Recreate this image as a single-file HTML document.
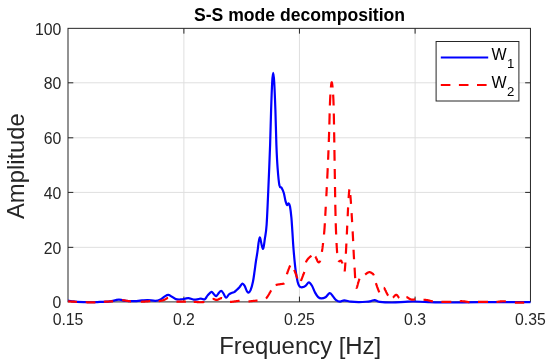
<!DOCTYPE html>
<html><head><meta charset="utf-8"><title>S-S mode decomposition</title>
<style>html,body{margin:0;padding:0;background:#fff;overflow:hidden;} svg{display:block;}</style>
</head><body>
<svg width="550" height="363" viewBox="0 0 550 363">
<line x1="183.88" y1="28.35" x2="183.88" y2="301.9" stroke="#dfdfdf" stroke-width="1"/>
<line x1="299.45" y1="28.35" x2="299.45" y2="301.9" stroke="#dfdfdf" stroke-width="1"/>
<line x1="415.10" y1="28.35" x2="415.10" y2="301.9" stroke="#dfdfdf" stroke-width="1"/>
<line x1="68.0" y1="247.35" x2="530.45" y2="247.35" stroke="#dfdfdf" stroke-width="1"/>
<line x1="68.0" y1="192.40" x2="530.45" y2="192.40" stroke="#dfdfdf" stroke-width="1"/>
<line x1="68.0" y1="137.80" x2="530.45" y2="137.80" stroke="#dfdfdf" stroke-width="1"/>
<line x1="68.0" y1="82.80" x2="530.45" y2="82.80" stroke="#dfdfdf" stroke-width="1"/>
<line x1="183.88" y1="301.9" x2="183.88" y2="296.60" stroke="#262626" stroke-width="1"/>
<line x1="183.88" y1="28.35" x2="183.88" y2="33.65" stroke="#262626" stroke-width="1"/>
<line x1="299.45" y1="301.9" x2="299.45" y2="296.60" stroke="#262626" stroke-width="1"/>
<line x1="299.45" y1="28.35" x2="299.45" y2="33.65" stroke="#262626" stroke-width="1"/>
<line x1="415.10" y1="301.9" x2="415.10" y2="296.60" stroke="#262626" stroke-width="1"/>
<line x1="415.10" y1="28.35" x2="415.10" y2="33.65" stroke="#262626" stroke-width="1"/>
<line x1="68.0" y1="247.35" x2="73.30" y2="247.35" stroke="#262626" stroke-width="1"/>
<line x1="530.45" y1="247.35" x2="525.15" y2="247.35" stroke="#262626" stroke-width="1"/>
<line x1="68.0" y1="192.40" x2="73.30" y2="192.40" stroke="#262626" stroke-width="1"/>
<line x1="530.45" y1="192.40" x2="525.15" y2="192.40" stroke="#262626" stroke-width="1"/>
<line x1="68.0" y1="137.80" x2="73.30" y2="137.80" stroke="#262626" stroke-width="1"/>
<line x1="530.45" y1="137.80" x2="525.15" y2="137.80" stroke="#262626" stroke-width="1"/>
<line x1="68.0" y1="82.80" x2="73.30" y2="82.80" stroke="#262626" stroke-width="1"/>
<line x1="530.45" y1="82.80" x2="525.15" y2="82.80" stroke="#262626" stroke-width="1"/>
<rect x="68.0" y="28.35" width="462.45" height="273.55" fill="none" stroke="#262626" stroke-width="1"/>
<path d="M68.00,300.65 C68.67,300.75 70.50,301.05 72.00,301.25 C73.50,301.45 74.00,301.68 77.00,301.85 C80.00,302.02 86.17,302.23 90.00,302.25 C93.83,302.27 97.00,302.05 100.00,301.95 C103.00,301.85 105.83,301.83 108.00,301.65 C110.17,301.47 111.58,301.15 113.00,300.85 C114.42,300.55 115.50,300.07 116.50,299.85 C117.50,299.63 118.08,299.52 119.00,299.55 C119.92,299.58 120.83,299.82 122.00,300.05 C123.17,300.28 123.60,300.78 126.00,300.95 C128.40,301.12 133.73,301.13 136.40,301.05 C139.07,300.97 140.10,300.62 142.00,300.45 C143.90,300.28 145.57,299.98 147.80,300.05 C150.03,300.12 153.28,300.95 155.40,300.85 C157.52,300.75 159.00,300.16 160.50,299.45 C162.00,298.74 163.12,297.39 164.40,296.61 C165.68,295.84 166.93,294.78 168.20,294.80 C169.47,294.82 170.73,296.01 172.00,296.74 C173.27,297.46 174.32,298.70 175.80,299.15 C177.28,299.60 179.37,299.52 180.90,299.45 C182.43,299.38 183.73,298.98 185.00,298.75 C186.27,298.52 187.07,297.93 188.50,298.08 C189.93,298.23 191.97,299.47 193.60,299.65 C195.23,299.83 197.07,299.33 198.30,299.15 C199.53,298.97 199.92,298.52 201.00,298.55 C202.08,298.58 203.72,299.84 204.80,299.35 C205.88,298.86 206.40,296.86 207.50,295.60 C208.60,294.34 210.30,291.98 211.40,291.80 C212.50,291.62 213.28,293.76 214.10,294.50 C214.92,295.24 215.58,296.43 216.30,296.25 C217.02,296.06 217.58,294.29 218.40,293.40 C219.22,292.51 220.37,290.90 221.20,290.90 C222.03,290.90 222.58,292.26 223.40,293.40 C224.22,294.54 225.20,297.53 226.10,297.71 C227.00,297.90 227.90,295.30 228.80,294.50 C229.70,293.70 230.68,293.25 231.50,292.90 C232.32,292.55 232.88,292.85 233.70,292.40 C234.52,291.95 235.40,291.12 236.40,290.20 C237.40,289.28 238.70,288.00 239.70,286.90 C240.70,285.80 241.58,283.78 242.40,283.60 C243.22,283.42 243.87,284.57 244.60,285.80 C245.33,287.03 246.17,289.87 246.80,291.00 C247.43,292.13 247.77,292.73 248.40,292.60 C249.03,292.47 249.83,292.05 250.60,290.20 C251.37,288.35 252.33,284.70 253.00,281.50 C253.67,278.30 254.12,274.33 254.60,271.00 C255.08,267.67 255.43,264.63 255.90,261.50 C256.37,258.37 256.77,256.20 257.40,252.20 C258.03,248.20 258.80,238.03 259.70,237.50 C260.60,236.97 261.93,248.83 262.80,249.00 C263.67,249.17 264.27,242.50 264.90,238.50 C265.53,234.50 266.03,233.08 266.60,225.00 C267.17,216.92 267.72,203.33 268.30,190.00 C268.88,176.67 269.63,158.33 270.10,145.00 C270.57,131.67 270.75,120.50 271.10,110.00 C271.45,99.50 271.85,88.20 272.20,82.00 C272.55,75.80 272.87,72.80 273.20,72.80 C273.53,72.80 273.83,75.80 274.20,82.00 C274.57,88.20 275.03,99.50 275.40,110.00 C275.77,120.50 276.03,135.33 276.40,145.00 C276.77,154.67 277.10,161.30 277.60,168.00 C278.10,174.70 278.72,181.87 279.40,185.20 C280.08,188.53 280.97,186.70 281.70,188.00 C282.43,189.30 283.15,190.77 283.80,193.00 C284.45,195.23 285.05,199.40 285.60,201.40 C286.15,203.40 286.58,204.67 287.10,205.00 C287.62,205.33 288.22,203.15 288.70,203.40 C289.18,203.65 289.55,204.13 290.00,206.50 C290.45,208.87 291.00,213.35 291.40,217.60 C291.80,221.85 292.03,226.60 292.40,232.00 C292.77,237.40 293.08,243.78 293.60,250.00 C294.12,256.22 294.83,264.02 295.50,269.30 C296.17,274.58 296.92,278.82 297.60,281.70 C298.28,284.58 298.75,285.68 299.60,286.60 C300.45,287.52 301.67,287.37 302.70,287.20 C303.73,287.03 304.77,286.42 305.80,285.60 C306.83,284.78 307.87,282.27 308.90,282.30 C309.93,282.33 310.97,284.08 312.00,285.80 C313.03,287.52 314.07,290.72 315.10,292.60 C316.13,294.48 317.17,296.13 318.20,297.10 C319.23,298.08 320.08,298.43 321.30,298.45 C322.52,298.47 324.12,298.10 325.50,297.23 C326.88,296.35 328.40,293.42 329.60,293.20 C330.80,292.98 331.67,294.79 332.70,295.90 C333.73,297.01 334.58,298.89 335.80,299.85 C337.02,300.81 338.58,301.57 340.00,301.65 C341.42,301.73 342.48,300.35 344.30,300.35 C346.12,300.35 348.52,301.37 350.90,301.65 C353.28,301.93 356.08,302.03 358.60,302.05 C361.12,302.07 363.92,301.92 366.00,301.75 C368.08,301.58 369.63,301.33 371.10,301.05 C372.57,300.77 373.35,299.92 374.80,300.05 C376.25,300.18 376.90,301.44 379.80,301.85 C382.70,302.26 388.00,302.51 392.20,302.50 C396.40,302.49 401.43,301.97 405.00,301.80 C408.57,301.63 409.73,301.45 413.60,301.50 C417.47,301.55 422.13,301.93 428.20,302.10 C434.27,302.27 441.37,302.48 450.00,302.50 C458.63,302.52 466.59,302.25 480.00,302.20 C493.41,302.15 522.04,302.20 530.45,302.20" fill="none" stroke="#0000ff" stroke-width="2.2" stroke-linejoin="round"/>
<g fill="none" stroke="#ff0000" stroke-width="2.2" stroke-linejoin="round">
<path d="M68.10,301.36 L68.20,301.36 L68.43,301.37 L68.69,301.39 L68.98,301.41 L69.29,301.42 L69.62,301.44 L69.97,301.46 L70.33,301.48 L70.72,301.51 L71.11,301.53 L71.52,301.55 L71.94,301.57 L72.36,301.60 L72.79,301.62 L73.23,301.65 L73.67,301.67 L74.10,301.70 L74.54,301.72 L74.97,301.74 L75.40,301.77 L75.81,301.79 L76.22,301.81 L76.62,301.83 L76.90,301.84"/>
<path d="M85.72,302.24 L86.00,302.25 L86.39,302.26 L86.78,302.27 L87.17,302.28 L87.57,302.29 L87.97,302.30 L88.37,302.31 L88.77,302.32 L89.17,302.33 L89.58,302.34 L89.98,302.35 L90.39,302.36 L90.79,302.36 L91.20,302.37 L91.60,302.37 L92.00,302.38 L92.40,302.38 L92.80,302.38 L93.20,302.38 L93.59,302.38 L93.98,302.38 L94.37,302.37 L94.75,302.37 L95.13,302.36 L95.40,302.35"/>
<path d="M103.90,301.74 L104.18,301.73 L104.56,301.71 L104.96,301.68 L105.37,301.66 L105.78,301.64 L106.20,301.62 L106.63,301.60 L107.06,301.58 L107.49,301.56 L107.92,301.54 L108.35,301.53 L108.78,301.51 L109.20,301.49 L109.62,301.47 L110.04,301.45 L110.44,301.43 L110.84,301.41 L111.23,301.39 L111.61,301.37 L111.98,301.34 L112.33,301.32 L112.67,301.30 L113.00,301.27 L113.20,301.26"/>
<path d="M122.20,300.15 L122.29,300.16 L122.48,300.17 L122.68,300.19 L122.88,300.21 L123.08,300.23 L123.29,300.25 L123.50,300.28 L123.71,300.31 L123.92,300.34 L124.13,300.37 L124.34,300.41 L124.56,300.44 L124.77,300.48 L124.98,300.52 L125.19,300.55 L125.40,300.59 L125.61,300.63 L125.82,300.66 L126.02,300.70 L126.23,300.73 L126.43,300.76 L126.62,300.80 L126.81,300.82 L127.00,300.85 L127.18,300.87 L127.35,300.90 L127.50,300.92 L127.65,300.95 L127.79,300.97 L127.93,300.99 L128.06,301.01 L128.19,301.04 L128.31,301.06 L128.44,301.08 L128.56,301.10 L128.69,301.12 L128.83,301.14 L128.97,301.16 L129.11,301.18 L129.27,301.20 L129.44,301.22 L129.61,301.24 L129.80,301.26 L130.01,301.27 L130.23,301.29 L130.47,301.31 L130.72,301.33 L130.90,301.34"/>
<path d="M140.90,301.75 L141.20,301.74 L141.61,301.73 L142.02,301.72 L142.43,301.70 L142.84,301.68 L143.25,301.66 L143.66,301.63 L144.07,301.60 L144.48,301.57 L144.89,301.54 L145.29,301.51 L145.70,301.47 L146.11,301.44 L146.51,301.41 L146.91,301.38 L147.31,301.34 L147.71,301.31 L148.10,301.28 L148.49,301.25 L148.88,301.23 L149.27,301.20 L149.65,301.18 L150.03,301.16 L150.30,301.15"/>
<path d="M158.70,301.14 L158.88,301.12 L159.15,301.09 L159.42,301.06 L159.68,301.03 L159.93,300.99 L160.18,300.95 L160.42,300.91 L160.65,300.87 L160.88,300.82 L161.11,300.78 L161.33,300.73 L161.55,300.67 L161.76,300.62 L161.98,300.57 L162.19,300.51 L162.39,300.45 L162.60,300.39 L162.80,300.33 L163.00,300.27 L163.20,300.21 L163.40,300.15 L163.60,300.08 L163.80,300.02 L164.00,299.95 L164.20,299.88 L164.39,299.80 L164.59,299.71 L164.77,299.62 L164.96,299.52 L165.14,299.41 L165.32,299.30 L165.50,299.19 L165.68,299.08 L165.86,298.97 L166.03,298.85 L166.20,298.74 L166.37,298.64 L166.54,298.53 L166.71,298.43 L166.87,298.34 L167.04,298.26 L167.21,298.18 L167.37,298.11 L167.54,298.06 L167.70,298.01 L167.87,297.98 L168.03,297.96 L168.10,297.95"/>
<path d="M176.50,301.56 L176.70,301.58 L177.02,301.60 L177.36,301.62 L177.72,301.63 L178.09,301.64 L178.48,301.65 L178.88,301.65 L179.29,301.65 L179.71,301.65 L180.13,301.65 L180.56,301.64 L181.00,301.63 L181.44,301.62 L181.88,301.61 L182.32,301.60 L182.76,301.59 L183.19,301.58 L183.62,301.57 L184.04,301.56 L184.46,301.56 L184.86,301.55 L185.25,301.55 L185.63,301.55 L185.90,301.55"/>
<path d="M193.70,301.76 L193.89,301.77 L194.18,301.78 L194.47,301.80 L194.75,301.83 L195.04,301.85 L195.32,301.88 L195.60,301.90 L195.88,301.93 L196.16,301.96 L196.43,301.98 L196.71,302.01 L196.97,302.04 L197.24,302.06 L197.51,302.09 L197.77,302.12 L198.03,302.14 L198.29,302.16 L198.54,302.18 L198.79,302.20 L199.04,302.22 L199.28,302.23 L199.53,302.24 L199.76,302.25 L200.00,302.25 L200.23,302.25 L200.46,302.25 L200.68,302.25 L200.90,302.25 L201.11,302.24 L201.33,302.23 L201.54,302.23 L201.74,302.22 L201.94,302.21 L202.14,302.19 L202.34,302.18 L202.54,302.16 L202.73,302.15 L202.92,302.13 L203.11,302.11 L203.30,302.08 L203.49,302.06 L203.68,302.03 L203.87,302.01 L204.05,301.98 L204.24,301.95 L204.33,301.93"/>
<path d="M212.61,299.02 L212.67,299.01 L212.84,298.98 L213.00,298.96 L213.16,298.96 L213.32,298.96 L213.48,298.98 L213.63,299.01 L213.79,299.05 L213.94,299.10 L214.09,299.15 L214.24,299.21 L214.39,299.27 L214.54,299.34 L214.69,299.41 L214.84,299.48 L215.00,299.54 L215.15,299.61 L215.30,299.68 L215.46,299.74 L215.62,299.79 L215.78,299.84 L215.94,299.89 L216.11,299.92 L216.27,299.95 L216.45,299.96 L216.62,299.96 L216.80,299.95 L216.98,299.92 L217.17,299.88 L217.37,299.83 L217.57,299.76 L217.78,299.68 L217.99,299.59 L218.20,299.50 L218.41,299.40 L218.63,299.29 L218.84,299.18 L219.06,299.07 L219.28,298.96 L219.50,298.84 L219.72,298.73 L219.93,298.63 L220.14,298.53 L220.35,298.43 L220.56,298.34 L220.76,298.27 L220.96,298.20 L221.16,298.14 L221.34,298.10 L221.53,298.07 L221.70,298.06 L221.87,298.07 L222.03,298.08 L222.08,298.09"/>
<path d="M230.00,301.85 L230.22,301.86 L230.55,301.87 L230.90,301.86 L231.26,301.84 L231.64,301.81 L232.03,301.78 L232.43,301.73 L232.84,301.68 L233.26,301.63 L233.69,301.57 L234.12,301.51 L234.56,301.44 L235.00,301.38 L235.45,301.31 L235.89,301.25 L236.33,301.18 L236.77,301.12 L237.21,301.06 L237.65,301.01 L238.07,300.96 L238.49,300.92 L238.91,300.89 L239.31,300.87 L239.60,300.85"/>
<path d="M248.50,301.35 L248.72,301.35 L249.03,301.34 L249.34,301.32 L249.65,301.31 L249.96,301.29 L250.26,301.27 L250.56,301.24 L250.85,301.21 L251.14,301.18 L251.43,301.15 L251.71,301.12 L251.99,301.09 L252.27,301.05 L252.54,301.02 L252.81,300.99 L253.07,300.95 L253.33,300.92 L253.58,300.89 L253.83,300.86 L254.07,300.83 L254.31,300.81 L254.55,300.79 L254.78,300.77 L255.00,300.75 L255.22,300.74 L255.42,300.73 L255.62,300.72 L255.82,300.71 L256.00,300.70 L256.18,300.70 L256.36,300.70 L256.53,300.69 L256.69,300.69 L256.85,300.69 L257.01,300.69 L257.16,300.69 L257.31,300.69 L257.46,300.69 L257.51,300.69"/>
<path d="M265.96,298.55 L266.00,298.51 L266.12,298.40 L266.23,298.28 L266.34,298.15 L266.46,298.02 L266.57,297.89 L266.68,297.75 L266.79,297.61 L266.90,297.46 L267.00,297.31 L267.11,297.15 L267.22,297.00 L267.32,296.84 L267.43,296.67 L267.54,296.51 L267.64,296.34 L267.75,296.17 L267.85,296.00 L267.96,295.83 L268.07,295.66 L268.17,295.49 L268.28,295.32 L268.38,295.14 L268.49,294.97 L268.60,294.80 L268.71,294.63 L268.82,294.45 L268.93,294.27 L269.04,294.08 L269.15,293.90 L269.26,293.70 L269.37,293.51 L269.48,293.32 L269.59,293.12 L269.70,292.93 L269.81,292.73 L269.92,292.53 L270.03,292.33 L270.14,292.14 L270.25,291.94 L270.36,291.75 L270.46,291.56 L270.57,291.37 L270.68,291.18 L270.78,291.00 L270.89,290.82 L270.99,290.64 L271.10,290.47 L271.15,290.39"/>
<path d="M275.70,285.13 L275.74,285.12 L275.87,285.06 L276.00,285.00 L276.14,284.95 L276.28,284.90 L276.43,284.85 L276.58,284.81 L276.73,284.76 L276.89,284.73 L277.04,284.69 L277.21,284.66 L277.37,284.63 L277.54,284.60 L277.71,284.57 L277.88,284.54 L278.05,284.52 L278.23,284.49 L278.40,284.47 L278.58,284.44 L278.76,284.41 L278.94,284.39 L279.11,284.36 L279.29,284.33 L279.47,284.30 L279.65,284.27 L279.82,284.24 L280.00,284.20 L280.18,284.16 L280.36,284.13 L280.55,284.11 L280.75,284.08 L280.94,284.06 L281.14,284.04 L281.35,284.02 L281.55,284.00 L281.76,283.98 L281.96,283.96 L282.17,283.94 L282.37,283.91 L282.57,283.88 L282.77,283.85 L282.96,283.82 L283.15,283.78 L283.33,283.73 L283.51,283.68 L283.68,283.62 L283.84,283.55 L284.00,283.48 L284.14,283.40 L284.28,283.30 L284.32,283.26"/>
<path d="M286.93,274.20 L286.96,274.10 L287.02,273.89 L287.09,273.68 L287.15,273.47 L287.22,273.26 L287.29,273.05 L287.36,272.83 L287.43,272.61 L287.50,272.40 L287.57,272.18 L287.65,271.97 L287.72,271.75 L287.79,271.53 L287.87,271.32 L287.94,271.11 L288.01,270.90 L288.09,270.69 L288.16,270.48 L288.24,270.28 L288.31,270.07 L288.38,269.87 L288.46,269.68 L288.53,269.49 L288.60,269.30 L288.67,269.11 L288.74,268.93 L288.82,268.74 L288.89,268.55 L288.96,268.37 L289.03,268.18 L289.11,267.99 L289.18,267.81 L289.26,267.63 L289.33,267.45 L289.40,267.27 L289.48,267.10 L289.55,266.93 L289.62,266.76 L289.69,266.60 L289.76,266.44 L289.83,266.29 L289.90,266.15 L289.97,266.00 L290.04,265.87 L290.11,265.74 L290.17,265.62 L290.24,265.51 L290.25,265.49"/>
<path d="M294.23,269.89 L294.26,269.97 L294.33,270.15 L294.40,270.33 L294.47,270.52 L294.54,270.70 L294.61,270.90 L294.69,271.09 L294.77,271.29 L294.84,271.49 L294.92,271.70 L295.00,271.90 L295.08,272.11 L295.16,272.31 L295.24,272.52 L295.32,272.72 L295.40,272.93 L295.48,273.13 L295.56,273.34 L295.63,273.54 L295.71,273.74 L295.79,273.93 L295.86,274.13 L295.93,274.31 L296.00,274.50 L296.07,274.68 L296.14,274.87 L296.21,275.05 L296.27,275.23 L296.34,275.42 L296.41,275.60 L296.48,275.78 L296.54,275.96 L296.61,276.14 L296.68,276.32 L296.74,276.49 L296.81,276.67 L296.87,276.84 L296.93,277.01 L296.99,277.18 L297.06,277.35 L297.12,277.52 L297.17,277.68 L297.23,277.84 L297.29,278.00 L297.34,278.15 L297.40,278.31 L297.45,278.45 L297.47,278.51"/>
<path d="M300.94,280.91 L300.95,280.87 L301.01,280.73 L301.06,280.58 L301.13,280.42 L301.19,280.25 L301.25,280.08 L301.32,279.90 L301.39,279.72 L301.46,279.53 L301.54,279.34 L301.61,279.14 L301.69,278.94 L301.76,278.73 L301.84,278.53 L301.92,278.32 L302.00,278.11 L302.07,277.91 L302.15,277.70 L302.23,277.49 L302.31,277.29 L302.38,277.09 L302.46,276.89 L302.53,276.69 L302.60,276.50 L302.67,276.31 L302.74,276.12 L302.82,275.94 L302.89,275.75 L302.97,275.56 L303.05,275.38 L303.12,275.19 L303.20,275.00 L303.28,274.82 L303.35,274.63 L303.43,274.44 L303.51,274.26 L303.58,274.07 L303.66,273.88 L303.73,273.69 L303.80,273.50 L303.87,273.30 L303.94,273.11 L304.00,272.91 L304.07,272.71 L304.13,272.51 L304.19,272.31 L304.25,272.11 L304.27,272.00"/>
<path d="M305.83,262.41 L305.85,262.36 L305.91,262.21 L305.96,262.07 L306.02,261.93 L306.08,261.80 L306.15,261.66 L306.21,261.53 L306.28,261.40 L306.35,261.27 L306.42,261.14 L306.49,261.01 L306.57,260.89 L306.64,260.76 L306.72,260.64 L306.80,260.52 L306.87,260.40 L306.95,260.29 L307.03,260.17 L307.11,260.06 L307.19,259.94 L307.27,259.83 L307.34,259.72 L307.42,259.61 L307.50,259.50 L307.58,259.39 L307.66,259.29 L307.73,259.18 L307.81,259.08 L307.90,258.98 L307.98,258.88 L308.06,258.78 L308.14,258.68 L308.22,258.59 L308.31,258.49 L308.39,258.40 L308.48,258.31 L308.56,258.22 L308.64,258.13 L308.73,258.04 L308.81,257.95 L308.90,257.87 L308.99,257.78 L309.07,257.70 L309.16,257.62 L309.24,257.54 L309.33,257.46 L309.41,257.38 L309.50,257.30 L309.59,257.22 L309.67,257.15 L309.76,257.07 L309.85,257.00 L309.94,256.93 L310.02,256.85 L310.11,256.78 L310.20,256.71 L310.29,256.65 L310.38,256.58 L310.47,256.51 L310.56,256.45 L310.65,256.39 L310.74,256.33 L310.83,256.27 L310.92,256.21 L311.01,256.15 L311.09,256.10 L311.18,256.04 L311.27,255.99 L311.35,255.94 L311.44,255.89 L311.51,255.85"/>
<path d="M315.36,256.58 L315.37,256.59 L315.44,256.69 L315.51,256.80 L315.58,256.91 L315.65,257.03 L315.71,257.15 L315.78,257.28 L315.85,257.41 L315.91,257.54 L315.98,257.68 L316.04,257.81 L316.11,257.95 L316.17,258.09 L316.23,258.23 L316.29,258.37 L316.35,258.50 L316.41,258.64 L316.47,258.77 L316.53,258.90 L316.58,259.03 L316.64,259.16 L316.69,259.28 L316.75,259.39 L316.80,259.50 L316.85,259.61 L316.90,259.71 L316.95,259.82 L316.99,259.92 L317.04,260.02 L317.08,260.12 L317.12,260.22 L317.16,260.32 L317.20,260.41 L317.24,260.51 L317.28,260.60 L317.32,260.69 L317.36,260.78 L317.39,260.87 L317.43,260.95 L317.47,261.04 L317.51,261.12 L317.55,261.19 L317.59,261.27 L317.63,261.34 L317.67,261.41 L317.71,261.48 L317.75,261.54 L317.80,261.60 L317.85,261.66 L317.89,261.71 L317.94,261.77 L317.99,261.82 L318.04,261.88 L318.09,261.93 L318.14,261.98 L318.19,262.02 L318.24,262.07 L318.29,262.11 L318.34,262.15 L318.39,262.18 L318.44,262.21 L318.49,262.24 L318.54,262.27 L318.59,262.29 L318.64,262.31 L318.70,262.32 L318.75,262.33 L318.80,262.33 L318.85,262.33 L318.90,262.33 L318.95,262.32 L319.00,262.30 L319.05,262.28 L319.10,262.26 L319.15,262.23 L319.20,262.20 L319.26,262.16 L319.31,262.12 L319.36,262.08 L319.41,262.03 L319.46,261.98 L319.52,261.93 L319.57,261.87 L319.62,261.81 L319.67,261.74 L319.72,261.67 L319.77,261.59 L319.82,261.51 L319.87,261.43 L319.92,261.34 L319.97,261.24 L320.02,261.14 L320.06,261.04 L320.11,260.93 L320.16,260.82 L320.16,260.79"/>
<path d="M321.91,251.90 L321.94,251.69 L321.99,251.37 L322.04,251.03 L322.09,250.67 L322.14,250.31 L322.19,249.93 L322.25,249.55 L322.30,249.15 L322.36,248.74 L322.41,248.32 L322.47,247.90 L322.52,247.47 L322.58,247.03 L322.64,246.59 L322.70,246.14 L322.76,245.69 L322.81,245.23 L322.87,244.77 L322.93,244.31 L322.98,243.85 L323.04,243.38 L323.08,243.00"/>
<path d="M324.01,234.50 L324.03,234.30 L324.07,233.78 L324.12,233.26 L324.17,232.73 L324.22,232.20 L324.27,231.66 L324.31,231.11 L324.36,230.56 L324.40,230.00 L324.44,229.44 L324.48,228.87 L324.53,228.30 L324.57,227.73 L324.60,227.16 L324.64,226.58 L324.68,226.00 L324.71,225.41 L324.75,224.81 L324.79,224.22 L324.82,223.61 L324.84,223.30"/>
<path d="M325.25,215.90 L325.26,215.72 L325.30,215.00 L325.34,214.26 L325.38,213.51 L325.43,212.74 L325.47,211.96 L325.52,211.16 L325.56,210.35 L325.61,209.53 L325.66,208.70 L325.70,207.87 L325.75,207.02 L325.76,206.80"/>
<path d="M326.33,196.30 L326.36,195.84 L326.40,195.00 L326.44,194.17 L326.49,193.33 L326.53,192.50 L326.57,191.67 L326.62,190.83 L326.66,190.00 L326.70,189.17 L326.74,188.33 L326.79,187.50 L326.81,187.10"/>
<path d="M327.23,178.60 L327.24,178.33 L327.28,177.50 L327.32,176.67 L327.36,175.83 L327.40,175.00 L327.44,174.17 L327.48,173.35 L327.52,172.53 L327.56,171.72 L327.59,170.92 L327.63,170.12 L327.67,169.32 L327.71,168.52 L327.73,168.10"/>
<path d="M328.10,159.80 L328.11,159.49 L328.15,158.62 L328.19,157.74 L328.23,156.84 L328.26,155.93 L328.30,155.00 L328.34,154.05 L328.38,153.09 L328.41,152.11 L328.45,151.12 L328.49,150.20"/>
<path d="M328.80,141.90 L328.80,141.74 L328.84,140.67 L328.88,139.59 L328.91,138.52 L328.95,137.44 L328.99,136.37 L329.03,135.29 L329.06,134.22 L329.10,133.16 L329.13,132.10 L329.14,131.90"/>
<path d="M329.36,124.50 L329.39,123.52 L329.42,122.41 L329.44,121.30 L329.47,120.19 L329.50,119.08 L329.53,117.97 L329.56,116.88 L329.58,115.79 L329.61,114.71 L329.64,113.64 L329.65,113.40"/>
<path d="M329.88,105.50 L329.90,105.00 L329.93,104.18 L329.96,103.38 L329.99,102.60 L330.03,101.84 L330.06,101.10 L330.09,100.38 L330.12,99.67 L330.15,98.99 L330.18,98.32 L330.22,97.67 L330.25,97.04 L330.28,96.42 L330.31,95.82 L330.35,95.23 L330.38,94.65 L330.38,94.60"/>
<path d="M330.91,87.50 L330.93,87.20 L330.97,86.76 L331.01,86.32 L331.06,85.90 L331.10,85.49 L331.14,85.10 L331.18,84.73 L331.22,84.38 L331.27,84.05 L331.31,83.74 L331.35,83.46 L331.39,83.20 L331.44,82.97 L331.48,82.77 L331.53,82.61 L331.57,82.48 L331.61,82.38 L331.66,82.32 L331.70,82.30 L331.74,82.32 L331.79,82.38 L331.83,82.48 L331.88,82.61 L331.93,82.77 L331.97,82.97 L332.02,83.20 L332.07,83.46 L332.12,83.74 L332.17,84.05 L332.21,84.38 L332.26,84.73 L332.31,85.10 L332.36,85.49 L332.41,85.90 L332.45,86.32 L332.50,86.76 L332.54,87.20 L332.57,87.50"/>
<path d="M333.13,94.60 L333.14,94.65 L333.17,95.23 L333.20,95.82 L333.24,96.42 L333.27,97.04 L333.30,97.67 L333.34,98.32 L333.37,98.99 L333.40,99.67 L333.43,100.38 L333.46,101.10 L333.49,101.84 L333.52,102.60 L333.54,103.38 L333.57,104.18 L333.60,105.00 L333.62,105.50"/>
<path d="M333.81,113.40 L333.81,113.64 L333.83,114.71 L333.86,115.79 L333.88,116.88 L333.89,117.97 L333.91,119.08 L333.93,120.19 L333.95,121.30 L333.97,122.41 L333.99,123.52 L334.01,124.50"/>
<path d="M334.14,132.30 L334.15,133.12 L334.17,134.17 L334.19,135.21 L334.21,136.25 L334.22,137.29 L334.24,138.33 L334.26,139.38 L334.27,140.42 L334.29,141.46 L334.30,142.40"/>
<path d="M334.42,150.10 L334.43,150.83 L334.45,151.88 L334.47,152.92 L334.48,153.96 L334.50,155.00 L334.52,156.04 L334.53,157.08 L334.55,158.12 L334.57,159.17 L334.58,160.21 L334.59,160.70"/>
<path d="M334.72,169.00 L334.73,169.58 L334.75,170.62 L334.77,171.67 L334.78,172.71 L334.80,173.75 L334.82,174.79 L334.83,175.83 L334.85,176.88 L334.87,177.92 L334.88,178.90"/>
<path d="M335.01,187.10 L335.01,187.44 L335.03,188.52 L335.05,189.59 L335.06,190.67 L335.08,191.74 L335.09,192.81 L335.11,193.88 L335.13,194.94 L335.14,195.99 L335.16,197.04 L335.16,197.30"/>
<path d="M335.29,204.70 L335.30,205.00 L335.32,205.93 L335.34,206.86 L335.36,207.77 L335.38,208.68 L335.40,209.58 L335.42,210.47 L335.44,211.35 L335.46,212.22 L335.48,213.09 L335.50,213.94 L335.52,214.79 L335.54,215.62 L335.54,215.90"/>
<path d="M335.75,223.30 L335.75,223.52 L335.78,224.27 L335.80,225.00 L335.82,225.72 L335.85,226.43 L335.87,227.13 L335.89,227.82 L335.92,228.50 L335.94,229.17 L335.96,229.83 L335.99,230.48 L336.01,231.12 L336.04,231.76 L336.06,232.38 L336.09,233.00 L336.11,233.61 L336.14,234.22 L336.15,234.50"/>
<path d="M336.55,243.00 L336.56,243.32 L336.59,243.86 L336.62,244.39 L336.65,244.92 L336.67,245.44 L336.70,245.96 L336.73,246.47 L336.76,246.97 L336.79,247.47 L336.82,247.96 L336.85,248.44 L336.88,248.92 L336.91,249.39 L336.94,249.85 L336.97,250.30 L337.00,250.74 L337.03,251.17 L337.07,251.59 L337.10,252.00 L337.13,252.40 L337.17,252.80 L337.19,253.10"/>
<path d="M338.45,260.60 L338.46,260.61 L338.52,260.70 L338.58,260.78 L338.65,260.85 L338.71,260.91 L338.78,260.97 L338.84,261.02 L338.91,261.06 L338.98,261.10 L339.04,261.13 L339.11,261.16 L339.18,261.19 L339.24,261.21 L339.31,261.23 L339.37,261.26 L339.44,261.28 L339.50,261.30 L339.56,261.32 L339.62,261.32 L339.69,261.31 L339.75,261.29 L339.81,261.25 L339.88,261.21 L339.94,261.17 L340.00,261.11 L340.06,261.06 L340.12,261.00 L340.19,260.94 L340.25,260.88 L340.31,260.81 L340.38,260.76 L340.44,260.70 L340.50,260.65 L340.56,260.61 L340.62,260.57 L340.69,260.55 L340.75,260.53 L340.81,260.53 L340.88,260.54 L340.94,260.56 L341.00,260.60 L341.06,260.65 L341.13,260.71 L341.19,260.78 L341.25,260.86 L341.32,260.95 L341.38,261.05 L341.45,261.15 L341.51,261.26 L341.58,261.37 L341.65,261.49 L341.71,261.62 L341.77,261.75 L341.84,261.89 L341.90,262.03 L341.97,262.17 L342.03,262.32 L342.09,262.47 L342.15,262.63 L342.21,262.79 L342.27,262.95 L342.33,263.11 L342.39,263.27 L342.45,263.44 L342.47,263.51"/>
<path d="M344.66,271.48 L344.67,271.35 L344.71,271.10 L344.74,270.82 L344.78,270.53 L344.81,270.21 L344.85,269.87 L344.88,269.51 L344.91,269.14 L344.95,268.76 L344.98,268.36 L345.01,267.95 L345.04,267.53 L345.08,267.10 L345.11,266.67 L345.14,266.23 L345.17,265.78 L345.21,265.34 L345.24,264.89 L345.27,264.44 L345.30,264.00 L345.33,263.55 L345.36,263.09 L345.39,262.63 L345.40,262.50"/>
<path d="M345.86,253.70 L345.88,253.40 L345.91,252.80 L345.94,252.20 L345.97,251.60 L346.00,251.00 L346.03,250.39 L346.06,249.77 L346.10,249.15 L346.13,248.52 L346.16,247.88 L346.19,247.23 L346.23,246.58 L346.26,245.93 L346.29,245.26 L346.33,244.60 L346.36,243.93 L346.38,243.50"/>
<path d="M346.82,234.50 L346.83,234.31 L346.87,233.62 L346.90,232.93 L346.93,232.24 L346.96,231.54 L347.00,230.84 L347.03,230.14 L347.06,229.44 L347.10,228.74 L347.13,228.04 L347.16,227.33 L347.19,226.62 L347.23,225.92 L347.24,225.60"/>
<path d="M347.68,216.30 L347.71,215.75 L347.74,214.97 L347.78,214.19 L347.82,213.40 L347.85,212.60 L347.89,211.80 L347.93,211.00 L347.96,210.20 L348.00,209.40 L348.04,208.61 L348.08,207.82 L348.10,207.40"/>
<path d="M348.63,198.10 L348.66,197.58 L348.70,196.98 L348.74,196.38 L348.78,195.79 L348.83,195.21 L348.87,194.64 L348.91,194.09 L348.95,193.56 L348.99,193.04 L349.04,192.55 L349.08,192.08 L349.12,191.64 L349.16,191.23 L349.21,190.85 L349.25,190.51 L349.29,190.20 L349.33,189.93 L349.37,189.71 L349.42,189.52 L349.46,189.39"/>
<path d="M350.32,195.00 L350.34,195.20 L350.38,195.66 L350.42,196.11 L350.46,196.56 L350.50,197.00 L350.54,197.44 L350.58,197.89 L350.62,198.36 L350.66,198.84 L350.69,199.33 L350.73,199.83 L350.77,200.34 L350.81,200.87 L350.84,201.40 L350.88,201.94 L350.92,202.49 L350.96,203.04 L350.99,203.61 L351.01,203.90"/>
<path d="M351.60,213.20 L351.63,213.61 L351.67,214.23 L351.70,214.85 L351.74,215.48 L351.78,216.11 L351.82,216.74 L351.86,217.38 L351.89,218.01 L351.93,218.65 L351.97,219.29 L352.01,219.93 L352.04,220.56 L352.08,221.20 L352.12,221.84 L352.13,222.10"/>
<path d="M352.65,231.40 L352.68,231.88 L352.71,232.50 L352.75,233.12 L352.78,233.75 L352.81,234.38 L352.84,235.00 L352.88,235.62 L352.91,236.25 L352.94,236.88 L352.97,237.50 L353.01,238.12 L353.04,238.75 L353.07,239.38 L353.10,240.00 L353.13,240.63 L353.15,241.10"/>
<path d="M353.54,249.70 L353.56,250.15 L353.59,250.77 L353.62,251.39 L353.65,252.01 L353.68,252.62 L353.71,253.22 L353.74,253.82 L353.77,254.41 L353.80,255.00 L353.83,255.58 L353.86,256.16 L353.90,256.73 L353.93,257.29 L353.96,257.86 L354.00,258.41 L354.03,258.97 L354.04,259.20"/>
<path d="M354.58,267.60 L354.60,268.00 L354.63,268.52 L354.66,269.05 L354.69,269.59 L354.72,270.12 L354.75,270.66 L354.78,271.20 L354.81,271.74 L354.84,272.28 L354.87,272.81 L354.90,273.35 L354.93,273.88 L354.96,274.41 L354.98,274.93 L355.01,275.44 L355.04,275.95 L355.07,276.44 L355.10,276.93 L355.13,277.41 L355.16,277.88 L355.17,278.10"/>
<path d="M356.25,287.47 L356.28,287.54 L356.31,287.60 L356.34,287.66 L356.37,287.71 L356.40,287.75 L356.43,287.78 L356.47,287.81 L356.50,287.82 L356.53,287.82 L356.57,287.82 L356.61,287.80 L356.64,287.78 L356.68,287.75 L356.72,287.71 L356.76,287.66 L356.80,287.60 L356.84,287.53 L356.88,287.44 L356.93,287.34 L356.97,287.23 L357.02,287.10 L357.06,286.96 L357.11,286.81 L357.16,286.64 L357.20,286.47 L357.25,286.30 L357.30,286.11 L357.35,285.92 L357.40,285.72 L357.45,285.52 L357.50,285.32 L357.56,285.11 L357.61,284.90 L357.66,284.70 L357.72,284.49 L357.77,284.28 L357.83,284.08 L357.88,283.88 L357.94,283.69 L358.00,283.50 L358.06,283.31 L358.12,283.12 L358.18,282.92 L358.23,282.71 L358.29,282.50 L358.35,282.29 L358.41,282.08 L358.47,281.86 L358.54,281.65 L358.60,281.43 L358.66,281.21 L358.72,280.99 L358.79,280.78 L358.86,280.57 L358.92,280.35 L358.99,280.15 L359.06,279.95 L359.13,279.75 L359.21,279.56 L359.28,279.37 L359.36,279.19 L359.44,279.02 L359.52,278.85 L359.55,278.79"/>
<path d="M365.18,274.55 L365.22,274.52 L365.34,274.44 L365.45,274.36 L365.57,274.28 L365.68,274.19 L365.80,274.11 L365.91,274.02 L366.02,273.93 L366.13,273.84 L366.24,273.75 L366.35,273.66 L366.46,273.57 L366.57,273.49 L366.68,273.40 L366.78,273.32 L366.89,273.24 L366.99,273.16 L367.10,273.08 L367.20,273.01 L367.30,272.94 L367.40,272.87 L367.50,272.81 L367.60,272.75 L367.70,272.70 L367.80,272.65 L367.89,272.60 L367.99,272.56 L368.08,272.52 L368.17,272.48 L368.26,272.44 L368.35,272.41 L368.44,272.37 L368.52,272.34 L368.61,272.32 L368.70,272.29 L368.78,272.27 L368.87,272.25 L368.95,272.23 L369.03,272.22 L369.12,272.20 L369.20,272.19 L369.29,272.19 L369.37,272.18 L369.46,272.18 L369.54,272.18 L369.63,272.18 L369.71,272.19 L369.80,272.20 L369.89,272.21 L369.98,272.23 L370.06,272.25 L370.15,272.27 L370.24,272.29 L370.33,272.32 L370.42,272.35 L370.50,272.38 L370.59,272.41 L370.68,272.45 L370.77,272.49 L370.86,272.53 L370.94,272.58 L371.03,272.62 L371.12,272.67 L371.21,272.72 L371.29,272.78 L371.38,272.83 L371.47,272.89 L371.56,272.95 L371.64,273.01 L371.73,273.07 L371.81,273.13 L371.90,273.20 L371.99,273.26 L372.07,273.32 L372.15,273.38 L372.24,273.43 L372.32,273.49 L372.41,273.54 L372.49,273.59 L372.57,273.64 L372.66,273.70 L372.74,273.75 L372.82,273.81 L372.91,273.88 L372.99,273.95 L373.07,274.03 L373.15,274.12 L373.24,274.21 L373.32,274.32 L373.40,274.44 L373.49,274.56 L373.57,274.70 L373.65,274.85 L373.73,275.02 L373.82,275.20 L373.86,275.31"/>
<path d="M375.93,283.20 L376.02,283.46 L376.14,283.84 L376.27,284.24 L376.41,284.65 L376.55,285.07 L376.70,285.50 L376.85,285.93 L377.01,286.37 L377.16,286.82 L377.32,287.26 L377.48,287.70 L377.64,288.14 L377.80,288.58 L377.96,289.00 L378.12,289.42 L378.27,289.83 L378.42,290.22 L378.56,290.59 L378.70,290.95 L378.84,291.29 L378.97,291.60 L379.09,291.90 L379.20,292.16 L379.26,292.31"/>
<path d="M383.76,287.90 L383.80,287.90 L383.87,287.91 L383.93,287.93 L384.00,287.96 L384.07,288.00 L384.13,288.06 L384.19,288.12 L384.26,288.20 L384.32,288.28 L384.39,288.38 L384.45,288.48 L384.52,288.59 L384.58,288.71 L384.65,288.83 L384.72,288.96 L384.78,289.10 L384.86,289.24 L384.93,289.39 L385.00,289.54 L385.08,289.69 L385.16,289.85 L385.24,290.01 L385.32,290.17 L385.41,290.34 L385.50,290.50 L385.59,290.67 L385.69,290.86 L385.79,291.05 L385.90,291.26 L386.00,291.47 L386.11,291.70 L386.23,291.93 L386.34,292.17 L386.46,292.41 L386.57,292.65 L386.69,292.90 L386.81,293.15 L386.93,293.40 L387.05,293.65 L387.17,293.89 L387.29,294.13 L387.41,294.37 L387.53,294.60 L387.65,294.83 L387.76,295.04 L387.87,295.25 L387.99,295.44 L388.09,295.63 L388.15,295.71"/>
<path d="M392.88,297.56 L392.92,297.53 L393.05,297.43 L393.18,297.32 L393.32,297.19 L393.46,297.06 L393.60,296.91 L393.75,296.76 L393.89,296.60 L394.04,296.44 L394.19,296.28 L394.35,296.12 L394.50,295.96 L394.65,295.80 L394.81,295.65 L394.96,295.51 L395.12,295.37 L395.27,295.25 L395.43,295.13 L395.58,295.03 L395.73,294.95 L395.87,294.88 L396.02,294.83 L396.16,294.80 L396.30,294.80 L396.44,294.82 L396.57,294.86 L396.71,294.93 L396.84,295.01 L396.97,295.12 L397.10,295.24 L397.23,295.37 L397.36,295.52 L397.49,295.68 L397.62,295.84 L397.75,296.01 L397.87,296.19 L398.00,296.37 L398.13,296.55 L398.26,296.73 L398.38,296.90 L398.51,297.07 L398.63,297.23 L398.76,297.39 L398.89,297.53 L399.02,297.66 L399.14,297.77 L399.27,297.87 L399.31,297.90"/>
<path d="M406.40,297.02 L406.46,297.03 L406.62,297.07 L406.77,297.12 L406.94,297.18 L407.10,297.25 L407.26,297.33 L407.42,297.42 L407.58,297.51 L407.74,297.61 L407.90,297.72 L408.07,297.83 L408.23,297.94 L408.38,298.05 L408.54,298.16 L408.70,298.28 L408.85,298.39 L409.00,298.49 L409.15,298.60 L409.30,298.70 L409.45,298.79 L409.59,298.88 L409.73,298.96 L409.87,299.03 L410.00,299.09 L410.13,299.15 L410.26,299.20 L410.38,299.25 L410.50,299.29 L410.61,299.33 L410.73,299.37 L410.84,299.41 L410.95,299.44 L411.06,299.47 L411.16,299.50 L411.27,299.53 L411.37,299.55 L411.47,299.57 L411.57,299.59 L411.67,299.61 L411.77,299.63 L411.87,299.64 L411.98,299.66 L412.08,299.67 L412.18,299.68 L412.28,299.69 L412.39,299.69 L412.49,299.70 L412.60,299.71 L412.71,299.71 L412.81,299.71 L412.92,299.70 L413.02,299.69 L413.12,299.68 L413.22,299.67 L413.32,299.65 L413.42,299.63 L413.52,299.61 L413.62,299.59 L413.72,299.57 L413.82,299.54 L413.93,299.52 L414.03,299.50 L414.14,299.47 L414.24,299.45 L414.35,299.43 L414.47,299.41 L414.58,299.39 L414.70,299.37 L414.82,299.36 L414.94,299.35 L415.07,299.34 L415.20,299.34 L415.23,299.34"/>
<path d="M423.50,299.71 L423.59,299.72 L423.78,299.73 L423.96,299.75 L424.15,299.76 L424.34,299.78 L424.53,299.80 L424.71,299.81 L424.90,299.83 L425.09,299.85 L425.28,299.87 L425.47,299.89 L425.66,299.91 L425.85,299.93 L426.04,299.96 L426.24,299.98 L426.43,300.00 L426.62,300.03 L426.82,300.06 L427.01,300.09 L427.21,300.12 L427.40,300.15 L427.60,300.18 L427.80,300.21 L428.00,300.25 L428.20,300.29 L428.39,300.33 L428.58,300.37 L428.77,300.42 L428.96,300.47 L429.14,300.52 L429.33,300.58 L429.51,300.63 L429.70,300.69 L429.89,300.74 L430.08,300.80 L430.27,300.86 L430.46,300.92 L430.66,300.97 L430.87,301.03 L431.07,301.09 L431.29,301.14 L431.51,301.19 L431.74,301.24 L431.97,301.29 L432.21,301.33 L432.47,301.38 L432.73,301.41 L432.90,301.44"/>
<path d="M441.40,301.85 L441.69,301.86 L442.10,301.86 L442.52,301.87 L442.95,301.88 L443.40,301.88 L443.85,301.88 L444.31,301.89 L444.77,301.89 L445.24,301.89 L445.71,301.89 L446.18,301.89 L446.64,301.89 L447.11,301.89 L447.56,301.88 L448.01,301.88 L448.45,301.88 L448.88,301.88 L449.29,301.87 L449.69,301.87 L450.07,301.87 L450.44,301.86 L450.78,301.86 L451.10,301.85 L451.30,301.85"/>
<path d="M459.80,301.25 L459.89,301.24 L460.07,301.24 L460.25,301.23 L460.42,301.23 L460.60,301.23 L460.77,301.22 L460.94,301.22 L461.11,301.22 L461.28,301.22 L461.45,301.22 L461.62,301.22 L461.79,301.22 L461.96,301.23 L462.14,301.23 L462.31,301.24 L462.49,301.25 L462.66,301.25 L462.84,301.26 L463.03,301.27 L463.21,301.29 L463.40,301.30 L463.60,301.32 L463.80,301.33 L464.00,301.35 L464.21,301.37 L464.41,301.40 L464.62,301.42 L464.83,301.45 L465.04,301.49 L465.25,301.52 L465.46,301.56 L465.67,301.60 L465.89,301.64 L466.10,301.68 L466.33,301.73 L466.55,301.77 L466.78,301.81 L467.01,301.85 L467.25,301.89 L467.49,301.93 L467.73,301.97 L467.98,302.00 L468.23,302.04 L468.50,302.07 L468.76,302.09 L469.03,302.12 L469.31,302.14 L469.50,302.14"/>
<path d="M478.00,301.95 L478.29,301.95 L478.69,301.94 L479.10,301.94 L479.51,301.94 L479.93,301.94 L480.36,301.94 L480.79,301.94 L481.23,301.94 L481.67,301.94 L482.11,301.94 L482.56,301.94 L483.00,301.94 L483.44,301.94 L483.89,301.94 L484.33,301.94 L484.77,301.94 L485.21,301.94 L485.64,301.95 L486.07,301.95 L486.49,301.95 L486.90,301.95 L487.31,301.95 L487.71,301.95 L488.00,301.95"/>
<path d="M496.50,301.94 L496.66,301.94 L496.91,301.92 L497.15,301.90 L497.38,301.88 L497.59,301.85 L497.80,301.83 L498.00,301.80 L498.20,301.77 L498.38,301.74 L498.56,301.71 L498.74,301.68 L498.91,301.65 L499.08,301.62 L499.25,301.59 L499.42,301.56 L499.58,301.53 L499.75,301.50 L499.92,301.47 L500.09,301.45 L500.26,301.42 L500.44,301.40 L500.62,301.38 L500.81,301.36 L501.00,301.35 L501.20,301.34 L501.39,301.33 L501.57,301.31 L501.75,301.30 L501.93,301.29 L502.11,301.28 L502.29,301.27 L502.46,301.26 L502.64,301.25 L502.82,301.25 L503.00,301.24 L503.18,301.24 L503.37,301.24 L503.56,301.23 L503.76,301.24 L503.96,301.24 L504.17,301.24 L504.39,301.25 L504.61,301.26 L504.85,301.27 L505.09,301.29 L505.35,301.31 L505.62,301.33 L505.80,301.34"/>
<path d="M514.90,302.56 L515.19,302.57 L515.58,302.59 L515.98,302.61 L516.39,302.62 L516.80,302.63 L517.21,302.64 L517.63,302.65 L518.05,302.65 L518.47,302.65 L518.89,302.65 L519.30,302.65 L519.72,302.64 L520.14,302.64 L520.55,302.63 L520.96,302.62 L521.36,302.62 L521.76,302.61 L522.15,302.60 L522.53,302.59 L522.90,302.58 L523.27,302.57 L523.62,302.56 L523.97,302.56 L524.20,302.55"/>
</g>
<text x="68.02" y="324.8" font-family="Liberation Sans, Arial, sans-serif" font-size="15.8" fill="#262626" text-anchor="middle">0.15</text>
<text x="183.88" y="324.8" font-family="Liberation Sans, Arial, sans-serif" font-size="15.8" fill="#262626" text-anchor="middle">0.2</text>
<text x="299.45" y="324.8" font-family="Liberation Sans, Arial, sans-serif" font-size="15.8" fill="#262626" text-anchor="middle">0.25</text>
<text x="415.10" y="324.8" font-family="Liberation Sans, Arial, sans-serif" font-size="15.8" fill="#262626" text-anchor="middle">0.3</text>
<text x="530.45" y="324.8" font-family="Liberation Sans, Arial, sans-serif" font-size="15.8" fill="#262626" text-anchor="middle">0.35</text>
<text x="61.3" y="308.40" font-family="Liberation Sans, Arial, sans-serif" font-size="15.8" fill="#262626" text-anchor="end">0</text>
<text x="61.3" y="253.85" font-family="Liberation Sans, Arial, sans-serif" font-size="15.8" fill="#262626" text-anchor="end">20</text>
<text x="61.3" y="198.90" font-family="Liberation Sans, Arial, sans-serif" font-size="15.8" fill="#262626" text-anchor="end">40</text>
<text x="61.3" y="144.30" font-family="Liberation Sans, Arial, sans-serif" font-size="15.8" fill="#262626" text-anchor="end">60</text>
<text x="61.3" y="89.30" font-family="Liberation Sans, Arial, sans-serif" font-size="15.8" fill="#262626" text-anchor="end">80</text>
<text x="61.3" y="34.85" font-family="Liberation Sans, Arial, sans-serif" font-size="15.8" fill="#262626" text-anchor="end">100</text>
<text x="299.5" y="20.6" font-family="Liberation Sans, Arial, sans-serif" font-size="17.6" font-weight="bold" fill="#000" text-anchor="middle">S-S mode decomposition</text>
<text transform="translate(300.2,354.0) scale(1.0,1)" font-family="Liberation Sans, Arial, sans-serif" font-size="23.9" fill="#262626" text-anchor="middle">Frequency [Hz]</text>
<text transform="translate(23.7,166.1) rotate(-90)" font-family="Liberation Sans, Arial, sans-serif" font-size="23.8" fill="#262626" text-anchor="middle">Amplitude</text>
<rect x="436.1" y="41.5" width="82.8" height="59.5" fill="#fff" stroke="#262626" stroke-width="1"/>
<line x1="440.8" y1="57.5" x2="488.2" y2="57.5" stroke="#0000ff" stroke-width="2"/>
<line x1="440.8" y1="85.1" x2="487.4" y2="85.1" stroke="#ff0000" stroke-width="2" stroke-dasharray="9.6 8.5"/>
<text x="491.5" y="60.3" font-family="Liberation Sans, Arial, sans-serif" font-size="16" fill="#000">W<tspan font-size="13.2" dx="0.5" dy="7.8">1</tspan></text>
<text x="491.5" y="88" font-family="Liberation Sans, Arial, sans-serif" font-size="16" fill="#000">W<tspan font-size="13.2" dx="0.5" dy="7.8">2</tspan></text>
</svg>
</body></html>
